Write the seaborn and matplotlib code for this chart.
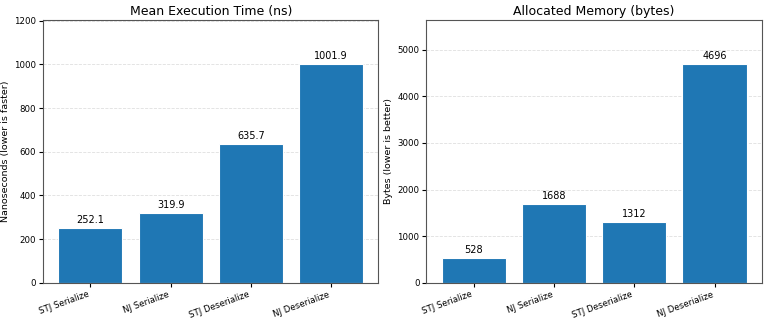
import matplotlib
matplotlib.use("Agg")
import matplotlib.pyplot as plt
import seaborn as sns
import pandas as pd

operations = ["STJ Serialize", "NJ Serialize", "STJ Deserialize", "NJ Deserialize"]
mean_ns = [252.1, 319.9, 635.7, 1001.9]
alloc_bytes = [528, 1688, 1312, 4696]

df = pd.DataFrame({"op": operations, "ns": mean_ns, "bytes": alloc_bytes})

fig, axes = plt.subplots(1, 2, figsize=(7.68, 3.24), dpi=100)
fig.subplots_adjust(left=0.056, right=0.992, top=0.938, bottom=0.127, wspace=0.143)

panels = [
    ("ns", "Mean Execution Time (ns)", "Nanoseconds (lower is faster)", "{:.1f}"),
    ("bytes", "Allocated Memory (bytes)", "Bytes (lower is better)", "{:.0f}"),
]

for ax, (col, title, ylabel, fmt) in zip(axes, panels):
    sns.barplot(data=df, x="op", y=col, ax=ax, color="#1f77b4", saturation=1,
                edgecolor="white", linewidth=0.8, width=0.8)
    ax.set_title(title, fontsize=9, pad=4)
    ax.set_ylabel(ylabel, fontsize=6.8, labelpad=3)
    ax.set_xlabel("")
    ax.set_xlim(-0.59, 3.59)
    ax.set_ylim(0, df[col].max() * 1.2)
    ax.grid(axis="y", linestyle="--", alpha=0.4, linewidth=0.6)
    ax.set_axisbelow(True)
    ax.tick_params(axis="both", labelsize=6.2, length=3, pad=2)
    plt.setp(ax.get_xticklabels(), rotation=20, ha="right")
    for container in ax.containers:
        ax.bar_label(container, labels=[fmt.format(v) for v in df[col]],
                     padding=2, fontsize=7)
    for s in ax.spines.values():
        s.set_color("#555555")

fig.savefig("out.png", dpi=100)
